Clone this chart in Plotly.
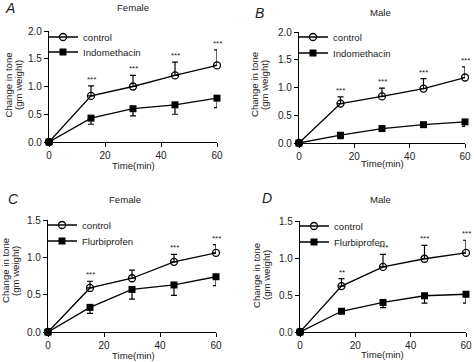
import plotly.graph_objects as go

time = [0, 15, 30, 45, 60]

# Panel A (Female, Indomethacin)
a_ctrl = [0, 0.83, 1.00, 1.20, 1.38]
a_ctrl_err = [0, 0.18, 0.20, 0.24, 0.28]
a_trt = [0, 0.43, 0.60, 0.67, 0.79]
a_trt_err = [0, 0.11, 0.13, 0.17, 0.17]
a_sig = ["", "***", "***", "***", "***"]

# Panel B (Male, Indomethacin)
b_ctrl = [0, 0.71, 0.84, 0.98, 1.18]
b_ctrl_err = [0, 0.12, 0.15, 0.18, 0.19]
b_trt = [0, 0.14, 0.26, 0.33, 0.38]
b_trt_err = [0, 0.06, 0.05, 0.04, 0.08]
b_sig = ["", "***", "***", "***", "***"]

# Panel C (Female, Flurbiprofen)
c_ctrl = [0, 0.59, 0.72, 0.94, 1.06]
c_ctrl_err = [0, 0.09, 0.11, 0.10, 0.11]
c_trt = [0, 0.33, 0.57, 0.63, 0.74]
c_trt_err = [0, 0.08, 0.13, 0.14, 0.12]
c_sig = ["", "***", "", "***", "***"]

# Panel D (Male, Flurbiprofen)
d_ctrl = [0, 0.62, 0.88, 0.99, 1.07]
d_ctrl_err = [0, 0.10, 0.17, 0.18, 0.17]
d_trt = [0, 0.28, 0.40, 0.49, 0.51]
d_trt_err = [0, 0.03, 0.07, 0.10, 0.12]
d_sig = ["", "**", "***", "***", "***"]

W, H = 474, 362
def px(x):
    return x / W
def py(y):
    return 1 - y / H

panels = [
    dict(letter="A", title="Female", drug="Indomethacin", ctrl=a_ctrl, ce=a_ctrl_err, trt=a_trt, te=a_trt_err, sig=a_sig, ymax=2.0,
         box=(49, 217, 31, 142), letter_xy=(10, 8), title_xy=(133, 8), ytitle=(7.5, 18, 85), xtitle_xy=(133, 165),
         leg=(43, 37, 52)),
    dict(letter="B", title="Male", drug="Indomethacin", ctrl=b_ctrl, ce=b_ctrl_err, trt=b_trt, te=b_trt_err, sig=b_sig, ymax=2.0,
         box=(299, 465, 32, 143), letter_xy=(259, 13), title_xy=(380, 13), ytitle=(254, 264, 85), xtitle_xy=(382, 163),
         leg=(293, 37, 53)),
    dict(letter="C", title="Female", drug="Flurbiprofen", ctrl=c_ctrl, ce=c_ctrl_err, trt=c_trt, te=c_trt_err, sig=c_sig, ymax=1.5,
         box=(48, 216, 220, 332), letter_xy=(13, 199), title_xy=(125, 199), ytitle=(5, 15, 271), xtitle_xy=(133, 355),
         leg=(42, 225, 241)),
    dict(letter="D", title="Male", drug="Flurbiprofen", ctrl=d_ctrl, ce=d_ctrl_err, trt=d_trt, te=d_trt_err, sig=d_sig, ymax=1.5,
         box=(300, 466, 221, 332), letter_xy=(267, 198), title_xy=(380, 199), ytitle=(256, 266, 275), xtitle_xy=(382, 354),
         leg=(294, 226, 242)),
]

FONT = "Liberation Sans, Arial, sans-serif"
TXT = "#222"
FS = 9.6
fig = go.Figure()
layout = dict(
    width=W, height=H, margin=dict(l=0, r=0, t=0, b=0, autoexpand=False),
    paper_bgcolor="white", plot_bgcolor="white",
    font=dict(family=FONT, size=FS, color=TXT),
    showlegend=True,
)
annotations = []

def leg_name(k):
    return "legend" if k == 1 else f"legend{k}"

for i, p in enumerate(panels):
    n = i + 1
    xa = "x" if n == 1 else f"x{n}"
    ya = "y" if n == 1 else f"y{n}"
    lg1 = leg_name(2 * i + 1)
    lg2 = leg_name(2 * i + 2)
    x0, x1, y0, y1 = p["box"]
    fig.add_trace(go.Scatter(
        x=time, y=p["ctrl"], name="control", xaxis=xa, yaxis=ya, legend=lg1,
        mode="lines+markers", cliponaxis=False,
        line=dict(color="black", width=1.3),
        marker=dict(symbol="circle-open", size=7, color="black", line=dict(width=1.3)),
        error_y=dict(type="data", symmetric=False, array=p["ce"], arrayminus=[0]*5,
                     color="black", thickness=1.2, width=3),
    ))
    fig.add_trace(go.Scatter(
        x=time, y=p["trt"], name=p["drug"], xaxis=xa, yaxis=ya, legend=lg2,
        mode="lines+markers", cliponaxis=False,
        line=dict(color="black", width=1.3),
        marker=dict(symbol="square", size=7, color="black"),
        error_y=dict(type="data", symmetric=False, array=[0]*5, arrayminus=p["te"],
                     color="black", thickness=1.2, width=3),
    ))
    axkey_x = "xaxis" if n == 1 else f"xaxis{n}"
    axkey_y = "yaxis" if n == 1 else f"yaxis{n}"
    layout[axkey_x] = dict(
        domain=[px(x0), px(x1)], anchor=ya, range=[0, 60], tickvals=[0, 20, 40, 60],
        showline=True, linecolor="black", linewidth=1.2, ticks="outside", ticklen=4,
        tickcolor="black", showgrid=False, zeroline=False, automargin=False,
        tickfont=dict(size=10, color=TXT),
    )
    layout[axkey_y] = dict(
        domain=[py(y1), py(y0)], anchor=xa, range=[0, p["ymax"]], dtick=0.5, tickformat=".1f",
        showline=True, linecolor="black", linewidth=1.2, ticks="outside", ticklen=4,
        tickcolor="black", showgrid=False, zeroline=False, automargin=False,
        tickfont=dict(size=10, color=TXT),
    )
    lx, r1, r2 = p["leg"]
    for lg, ry in ((lg1, r1), (lg2, r2)):
        layout[lg] = dict(
            x=px(lx), y=py(ry), xanchor="left", yanchor="middle",
            xref="paper", yref="paper", bgcolor="rgba(0,0,0,0)",
            font=dict(size=FS, color=TXT), itemwidth=30,
        )
    annotations.append(dict(text=f"<i>{p['letter']}</i>", xref="paper", yref="paper",
                            x=px(p["letter_xy"][0]), y=py(p["letter_xy"][1]), xanchor="center", yanchor="middle",
                            showarrow=False, font=dict(size=14, color=TXT)))
    annotations.append(dict(text=p["title"], xref="paper", yref="paper",
                            x=px(p["title_xy"][0]), y=py(p["title_xy"][1]), xanchor="center", yanchor="middle",
                            showarrow=False, font=dict(size=FS, color=TXT)))
    tx1, tx2, tyc = p["ytitle"]
    for txt, tx in (("Change in tone", tx1), ("(gm weight)", tx2)):
        annotations.append(dict(text=txt, xref="paper", yref="paper",
                                x=px(tx), y=py(tyc), xanchor="center", yanchor="middle",
                                textangle=-90, showarrow=False, font=dict(size=FS, color=TXT)))
    annotations.append(dict(text="Time(min)", xref="paper", yref="paper",
                            x=px(p["xtitle_xy"][0]), y=py(p["xtitle_xy"][1]), xanchor="center", yanchor="middle",
                            showarrow=False, font=dict(size=FS, color=TXT)))
    for t, v, e, s in zip(time, p["ctrl"], p["ce"], p["sig"]):
        if s:
            annotations.append(dict(text=s, x=t, y=v + e, xref=xa, yref=ya,
                                    xanchor="center", yanchor="bottom", yshift=0,
                                    showarrow=False, font=dict(size=8, color=TXT)))

layout["annotations"] = annotations
fig.update_layout(**layout)
fig.write_html("out.html", config={"displayModeBar": False},
               post_script="document.body.style.margin='0';document.body.style.overflow='hidden';")
